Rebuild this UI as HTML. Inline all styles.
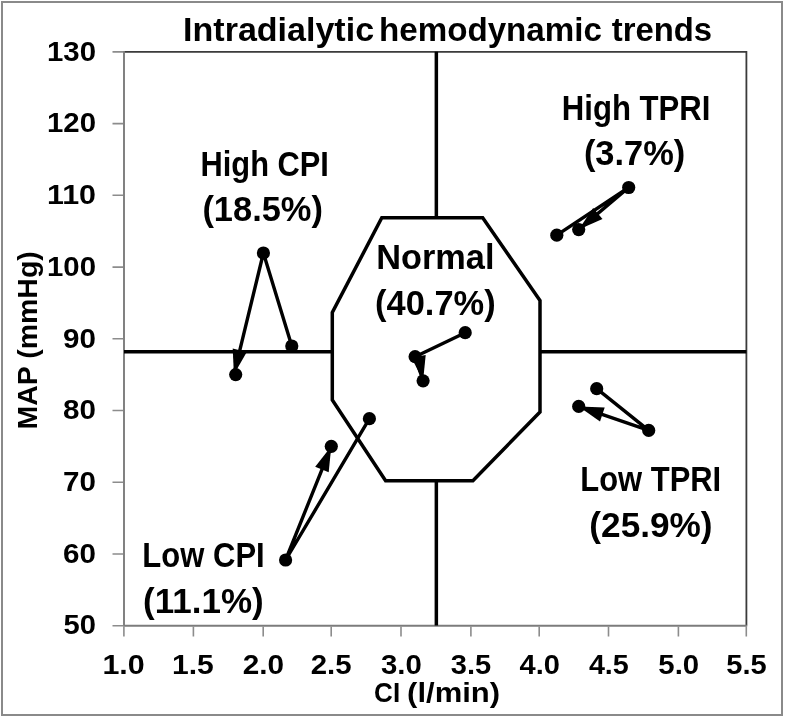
<!DOCTYPE html>
<html><head><meta charset="utf-8"><title>Intradialytic hemodynamic trends</title>
<style>
html,body{margin:0;padding:0;background:#fff;}
svg{display:block;}
text{font-family:"Liberation Sans",sans-serif;font-weight:bold;fill:#000;}
</style></head><body>
<svg width="785" height="718" viewBox="0 0 785 718">
<defs><filter id="soft" x="-2%" y="-2%" width="104%" height="104%"><feGaussianBlur stdDeviation="0.55"/></filter></defs>
<rect width="785" height="718" fill="#fff"/>
<g filter="url(#soft)">
<rect x="2" y="2" width="780" height="713" fill="#fff" stroke="#8a8a8a" stroke-width="2"/>
<path d="M124.0 51.8H746.4V625.6" fill="none" stroke="#3a3a3a" stroke-width="1.8"/>
<path d="M124.0 50.9V625.6M123.1 625.7H747.2" fill="none" stroke="#7c7c7c" stroke-width="1.9"/>
<path d="M112.5 625.7H123.1M112.5 554.0H123.1M112.5 482.3H123.1M112.5 410.5H123.1M112.5 338.8H123.1M112.5 267.1H123.1M112.5 195.3H123.1M112.5 123.6H123.1M112.5 51.9H123.1M123.9 626.6V636.4M193.4 626.6V636.4M263.2 626.6V636.4M331.2 626.6V636.4M401.0 626.6V636.4M470.9 626.6V636.4M539.2 626.6V636.4M608.5 626.6V636.4M678.4 626.6V636.4M746.3 626.6V636.4" stroke="#8c8c8c" stroke-width="1.6" fill="none"/>
<path d="M381.8 217.8 L482.7 217.8 L540.0 300.5 L540.0 412.0 L472.9 480.8 L385.6 480.8 L332.3 400.0 L332.3 312.5ZM124.0 351.7H332.3M540.0 351.7H746.3M436.35 51.8V217.8M436.35 480.8V625.6" stroke="#000" stroke-width="3.5" fill="none" stroke-linejoin="miter"/>
<polyline points="291.8,346 263.4,253 233.9,374.6" stroke="#000" stroke-width="3.4" fill="none" stroke-linejoin="round"/>
<polygon points="233.9,374.6 232.7,348.6 246.8,352.0" fill="#000"/>
<circle cx="291.8" cy="346" r="6.6" fill="#000"/>
<circle cx="263.4" cy="253" r="6.6" fill="#000"/>
<circle cx="235.7" cy="374.6" r="6.6" fill="#000"/>
<polyline points="369.4,418.7 285.6,560 331.3,446.3" stroke="#000" stroke-width="3.4" fill="none" stroke-linejoin="round"/>
<polygon points="331.3,446.3 328.7,472.2 315.2,466.8" fill="#000"/>
<circle cx="369.4" cy="418.7" r="6.6" fill="#000"/>
<circle cx="285.6" cy="560" r="6.6" fill="#000"/>
<circle cx="331.3" cy="446.3" r="6.6" fill="#000"/>
<polyline points="465.2,332.7 415.1,356.7 423.1,380.8" stroke="#000" stroke-width="3.4" fill="none" stroke-linejoin="round"/>
<polygon points="423.1,380.8 411.4,357.5 425.7,354.9" fill="#000"/>
<circle cx="465.2" cy="332.7" r="6.6" fill="#000"/>
<circle cx="415.1" cy="356.7" r="6.6" fill="#000"/>
<circle cx="423.1" cy="380.8" r="6.6" fill="#000"/>
<polyline points="556.8,235.2 628.7,187.5 578.7,229.6" stroke="#000" stroke-width="3.4" fill="none" stroke-linejoin="round"/>
<polygon points="578.7,229.6 593.2,208.0 602.5,219.0" fill="#000"/>
<circle cx="556.8" cy="235.2" r="6.6" fill="#000"/>
<circle cx="628.7" cy="187.5" r="6.6" fill="#000"/>
<circle cx="578.7" cy="229.6" r="6.6" fill="#000"/>
<polyline points="596.7,388.7 648.7,430.4 578.7,406.4" stroke="#000" stroke-width="3.4" fill="none" stroke-linejoin="round"/>
<polygon points="578.7,406.4 604.7,407.6 600.0,421.4" fill="#000"/>
<circle cx="596.7" cy="388.7" r="6.6" fill="#000"/>
<circle cx="648.7" cy="430.4" r="6.6" fill="#000"/>
<circle cx="578.7" cy="406.4" r="6.6" fill="#000"/>
<g>
<text transform="translate(183.07,40.50) scale(1.0169,1)" font-size="33.48">Intradialytic</text>
<text transform="translate(379.03,40.50) scale(0.9902,1)" font-size="33.48">hemodynamic</text>
<text transform="translate(611.80,40.50) scale(0.9806,1)" font-size="33.48">trends</text>
<text transform="translate(200.47,175.60) scale(0.9021,1)" font-size="34.20">High CPI</text>
<text transform="translate(202.39,220.90) scale(0.9858,1)" font-size="34.93">(18.5%)</text>
<text transform="translate(376.15,269.20) scale(1.0046,1)" font-size="34.20">Normal</text>
<text transform="translate(375.08,314.90) scale(0.9866,1)" font-size="34.93">(40.7%)</text>
<text transform="translate(561.85,119.70) scale(0.9099,1)" font-size="34.20">High TPRI</text>
<text transform="translate(583.89,165.30) scale(0.9863,1)" font-size="34.93">(3.7%)</text>
<text transform="translate(580.27,491.40) scale(0.9048,1)" font-size="34.20">Low TPRI</text>
<text transform="translate(589.35,536.60) scale(1.0076,1)" font-size="34.93">(25.9%)</text>
<text transform="translate(142.36,567.10) scale(0.9071,1)" font-size="34.20">Low CPI</text>
<text transform="translate(143.06,612.80) scale(1.0028,1)" font-size="34.93">(11.1%)</text>
<text transform="translate(63.54,634.40) scale(1.0372,1)" font-size="28.12">50</text>
<text transform="translate(63.07,562.68) scale(1.0528,1)" font-size="28.12">60</text>
<text transform="translate(63.07,490.95) scale(1.0528,1)" font-size="28.12">70</text>
<text transform="translate(63.07,419.23) scale(1.0528,1)" font-size="28.12">80</text>
<text transform="translate(63.07,347.50) scale(1.0528,1)" font-size="28.12">90</text>
<text transform="translate(46.96,275.78) scale(1.0451,1)" font-size="28.12">100</text>
<text transform="translate(46.90,204.05) scale(1.0833,1)" font-size="28.12">110</text>
<text transform="translate(46.96,132.33) scale(1.0451,1)" font-size="28.12">120</text>
<text transform="translate(46.96,60.60) scale(1.0451,1)" font-size="28.12">130</text>
<text transform="translate(102.40,674.30) scale(1.0832,1)" font-size="28.12">1.0</text>
<text transform="translate(171.92,674.30) scale(1.0702,1)" font-size="28.12">1.5</text>
<text transform="translate(242.67,674.30) scale(1.0575,1)" font-size="28.12">2.0</text>
<text transform="translate(310.68,674.30) scale(1.0452,1)" font-size="28.12">2.5</text>
<text transform="translate(380.94,674.30) scale(1.0452,1)" font-size="28.12">3.0</text>
<text transform="translate(450.85,674.30) scale(1.0331,1)" font-size="28.12">3.5</text>
<text transform="translate(519.60,674.30) scale(1.0331,1)" font-size="28.12">4.0</text>
<text transform="translate(588.90,674.30) scale(1.0212,1)" font-size="28.12">4.5</text>
<text transform="translate(658.34,674.30) scale(1.0452,1)" font-size="28.12">5.0</text>
<text transform="translate(726.25,674.30) scale(1.0331,1)" font-size="28.12">5.5</text>
<text transform="translate(374.09,701.90) scale(0.9266,1)" font-size="28.12">CI</text>
<text transform="translate(407.05,701.90) scale(1.1037,1)" font-size="28.12">(l/min)</text>
<text transform="translate(37.20,429.38) rotate(-90) scale(1.0125,1)" font-size="28.12">MAP (mmHg)</text>
</g>
</g>
</svg>
</body></html>
